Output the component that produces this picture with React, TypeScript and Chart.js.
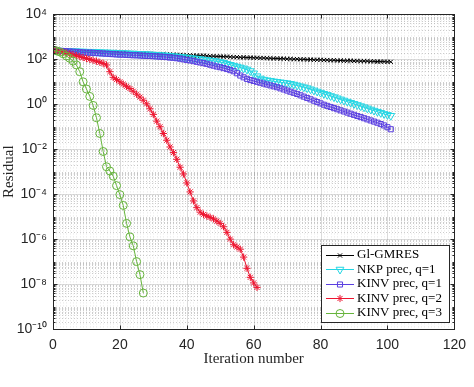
import React, { useEffect, useRef } from 'react';
import { Chart, registerables } from 'chart.js';
import { drawPoint } from 'chart.js/helpers';

Chart.register(...registerables);

// ---- data (log10 of residual, one value per iteration starting at 0) ----
const seriesNames = ['Gl-GMRES', 'NKP prec, q=1', 'KINV prec, q=1', 'KINV prec, q=2', 'KINV prec, q=3'];

const glGmresLog10 = [
  2.40, 2.40, 2.39, 2.39, 2.38, 2.37, 2.37, 2.36, 2.36, 2.35,
  2.35, 2.34, 2.34, 2.33, 2.33, 2.32, 2.32, 2.31, 2.31, 2.30,
  2.30, 2.29, 2.29, 2.28, 2.28, 2.27, 2.26, 2.26, 2.25, 2.25,
  2.24, 2.24, 2.23, 2.23, 2.22, 2.21, 2.21, 2.20, 2.20, 2.19,
  2.18, 2.18, 2.17, 2.17, 2.16, 2.16, 2.15, 2.14, 2.14, 2.13,
  2.13, 2.12, 2.12, 2.11, 2.10, 2.10, 2.09, 2.09, 2.08, 2.08,
  2.07, 2.07, 2.06, 2.06, 2.05, 2.05, 2.04, 2.04, 2.03, 2.03,
  2.02, 2.02, 2.01, 2.01, 2.00, 2.00, 1.99, 1.99, 1.98, 1.98,
  1.98, 1.97, 1.97, 1.96, 1.96, 1.95, 1.95, 1.94, 1.94, 1.94,
  1.93, 1.93, 1.92, 1.92, 1.92, 1.91, 1.91, 1.90, 1.90, 1.90,
  1.89, 1.89,
];

const nkpQ1Log10 = [
  2.40, 2.39, 2.39, 2.38, 2.38, 2.37, 2.36, 2.36, 2.35, 2.35,
  2.34, 2.34, 2.33, 2.33, 2.32, 2.31, 2.31, 2.30, 2.30, 2.29,
  2.28, 2.28, 2.27, 2.26, 2.26, 2.25, 2.24, 2.23, 2.23, 2.22,
  2.21, 2.20, 2.19, 2.18, 2.17, 2.16, 2.14, 2.13, 2.11, 2.10,
  2.08, 2.06, 2.05, 2.03, 2.01, 1.99, 1.97, 1.95, 1.93, 1.91,
  1.88, 1.85, 1.80, 1.76, 1.72, 1.68, 1.64, 1.60, 1.55, 1.48,
  1.38, 1.25, 1.15, 1.10, 1.07, 1.05, 1.02, 1.00, 0.98, 0.96,
  0.94, 0.91, 0.88, 0.84, 0.80, 0.76, 0.72, 0.67, 0.62, 0.57,
  0.52, 0.47, 0.42, 0.37, 0.32, 0.27, 0.22, 0.17, 0.12, 0.07,
  0.02, -0.03, -0.08, -0.13, -0.18, -0.23, -0.28, -0.33, -0.38, -0.43,
  -0.47, -0.51,
];

const kinvQ1Log10 = [
  2.40, 2.39, 2.38, 2.37, 2.36, 2.35, 2.34, 2.33, 2.32, 2.31,
  2.30, 2.30, 2.29, 2.28, 2.27, 2.26, 2.25, 2.24, 2.23, 2.22,
  2.21, 2.21, 2.20, 2.19, 2.18, 2.18, 2.17, 2.16, 2.15, 2.15,
  2.14, 2.13, 2.12, 2.11, 2.10, 2.08, 2.07, 2.05, 2.03, 2.00,
  1.97, 1.95, 1.92, 1.89, 1.86, 1.83, 1.80, 1.76, 1.72, 1.68,
  1.65, 1.61, 1.57, 1.52, 1.47, 1.38, 1.28, 1.20, 1.13, 1.08,
  1.04, 1.00, 0.96, 0.92, 0.88, 0.84, 0.80, 0.76, 0.71, 0.66,
  0.61, 0.56, 0.51, 0.46, 0.40, 0.34, 0.28, 0.22, 0.16, 0.10,
  0.04, -0.02, -0.07, -0.12, -0.17, -0.22, -0.27, -0.32, -0.37, -0.42,
  -0.47, -0.52, -0.57, -0.62, -0.67, -0.72, -0.77, -0.82, -0.88, -0.94,
  -1.02, -1.11,
];

const kinvQ2Log10 = [
  2.40, 2.38, 2.35, 2.32, 2.28, 2.24, 2.20, 2.16, 2.12, 2.08,
  2.04, 2.00, 1.96, 1.92, 1.87, 1.82, 1.75, 1.45, 1.20, 1.10,
  1.00, 0.90, 0.80, 0.70, 0.58, 0.45, 0.32, 0.18, 0.02, -0.20,
  -0.45, -0.75, -1.00, -1.30, -1.60, -1.90, -2.15, -2.45, -2.80, -3.10,
  -3.50, -3.90, -4.30, -4.60, -4.80, -4.90, -4.97, -5.03, -5.10, -5.20,
  -5.30, -5.45, -5.70, -6.00, -6.25, -6.35, -6.45, -6.80, -7.30, -7.70,
  -7.95, -8.15,
];

const kinvQ3Log10 = [
  2.40, 2.38, 2.33, 2.25, 2.15, 2.05, 1.92, 1.75, 1.45, 1.00,
  0.68, 0.35, -0.05, -0.60, -1.30, -2.10, -2.78, -2.97, -3.20, -3.62,
  -4.02, -4.50, -5.30, -5.90, -6.30, -7.00, -7.58, -8.40,
];

const xTickValues = [0, 20, 40, 60, 80, 100, 120];
const yTickExponents = [-10, -8, -6, -4, -2, 0, 2, 4];

const seriesColors = ['#000000', '#22d6e4', '#5a3fe0', '#ee1530', '#66b43c'];
const seriesMarkers = ['crossRot', 'triangle', 'rect', 'star', 'circle'];
const markerRadius = [3, 4.5, 3.6, 3.6, 4];
const markerRotation = [0, 180, 0, 0, 0];

const SUP: Record<string, string> = {
  '0': '⁰', '1': '¹', '2': '²', '3': '³', '4': '⁴', '5': '⁵',
  '6': '⁶', '7': '⁷', '8': '⁸', '9': '⁹', '-': '⁻',
};
const pow10Label = (e: number) => '10' + String(e).split('').map((c) => SUP[c] || c).join('');

const AXIS_COLOR = '#262626';
const SANS = '"Liberation Sans", Arial, Helvetica, sans-serif';
const SERIF = '"Liberation Serif", "Times New Roman", serif';

const crisp = (v: number) => Math.round(v) + 0.5;

const gridPlugin = {
  id: 'matlabGrid',
  beforeDatasetsDraw(chart: any) {
    const { ctx, chartArea: a, scales } = chart;
    const x = scales.x;
    const y = scales.y;
    ctx.save();
    ctx.lineWidth = 1;
    // minor vertical dotted lines
    ctx.setLineDash([1, 2]);
    ctx.strokeStyle = 'rgba(0,0,0,0.10)';
    for (let v = 1; v < 120; v += 1) {
      if (v % 20 === 0) continue;
      const px = crisp(x.getPixelForValue(v));
      ctx.beginPath();
      ctx.moveTo(px, a.top);
      ctx.lineTo(px, a.bottom);
      ctx.stroke();
    }
    // minor horizontal dotted lines
    ctx.strokeStyle = 'rgba(0,0,0,0.20)';
    for (let e = -10; e < 4; e++) {
      for (let k = 1; k <= 9; k++) {
        if (k === 1 && e % 2 === 0) continue;
        const py = crisp(y.getPixelForValue(k * Math.pow(10, e)));
        ctx.beginPath();
        ctx.moveTo(a.left, py);
        ctx.lineTo(a.right, py);
        ctx.stroke();
      }
    }
    // major solid lines
    ctx.setLineDash([]);
    ctx.strokeStyle = 'rgba(0,0,0,0.14)';
    xTickValues.forEach((v) => {
      const px = crisp(x.getPixelForValue(v));
      ctx.beginPath();
      ctx.moveTo(px, a.top);
      ctx.lineTo(px, a.bottom);
      ctx.stroke();
    });
    yTickExponents.forEach((e) => {
      const py = crisp(y.getPixelForValue(Math.pow(10, e)));
      ctx.beginPath();
      ctx.moveTo(a.left, py);
      ctx.lineTo(a.right, py);
      ctx.stroke();
    });
    ctx.restore();
  },
  afterDatasetsDraw(chart: any) {
    const { ctx, chartArea: a, scales } = chart;
    const x = scales.x;
    const y = scales.y;
    ctx.save();
    ctx.strokeStyle = AXIS_COLOR;
    ctx.lineWidth = 1;
    const L = crisp(a.left);
    const R = crisp(a.right);
    const T = crisp(a.top);
    const B = crisp(a.bottom);
    ctx.strokeRect(L, T, R - L, B - T);
    ctx.beginPath();
    xTickValues.forEach((v) => {
      const px = crisp(x.getPixelForValue(v));
      ctx.moveTo(px, B);
      ctx.lineTo(px, B - 4);
      ctx.moveTo(px, T);
      ctx.lineTo(px, T + 4);
    });
    for (let e = -10; e <= 4; e++) {
      for (let k = 1; k <= 9; k++) {
        if (e === 4 && k > 1) break;
        const py = crisp(y.getPixelForValue(k * Math.pow(10, e)));
        const len = k === 1 && e % 2 === 0 ? 4 : 2;
        ctx.moveTo(L, py);
        ctx.lineTo(L + len, py);
        ctx.moveTo(R, py);
        ctx.lineTo(R - len, py);
      }
    }
    ctx.stroke();
    ctx.restore();
  },
  afterDraw(chart: any) {
    const { ctx, chartArea: a } = chart;
    const w = 128;
    const h = 77;
    const right = Math.round(a.right) - 5;
    const bottom = Math.round(a.bottom) - 7;
    const left = right - w;
    const top = bottom - h;
    ctx.save();
    ctx.fillStyle = '#ffffff';
    ctx.fillRect(left, top, w, h);
    ctx.strokeStyle = AXIS_COLOR;
    ctx.lineWidth = 1;
    ctx.strokeRect(left + 0.5, top + 0.5, w, h);
    ctx.font = `13px ${SERIF}`;
    ctx.textBaseline = 'middle';
    ctx.textAlign = 'left';
    seriesNames.forEach((name, i) => {
      const cy = top + 9.5 + i * 14.5;
      const x0 = left + 5;
      const x1 = left + 33;
      ctx.strokeStyle = seriesColors[i];
      ctx.lineWidth = 1;
      ctx.beginPath();
      ctx.moveTo(x0, Math.round(cy) + 0.5);
      ctx.lineTo(x1, Math.round(cy) + 0.5);
      ctx.stroke();
      ctx.fillStyle = 'rgba(0,0,0,0)';
      drawPoint(ctx, {
        pointStyle: seriesMarkers[i],
        radius: markerRadius[i],
        rotation: markerRotation[i],
        borderWidth: 1,
      } as any, (x0 + x1) / 2, Math.round(cy) + 0.5);
      ctx.fillStyle = '#000000';
      ctx.fillText(name, left + 36, cy + 0.5);
    });
    ctx.restore();
  },
};

const seriesLog10 = [glGmresLog10, nkpQ1Log10, kinvQ1Log10, kinvQ2Log10, kinvQ3Log10];

export default function App() {
  const canvasRef = useRef<HTMLCanvasElement | null>(null);

  useEffect(() => {
    const canvas = canvasRef.current;
    if (!canvas) return;
    const datasets = seriesLog10.map((vals, i) => ({
      label: seriesNames[i],
      data: vals.map((v, it) => ({ x: it, y: Math.pow(10, v) })),
      borderColor: seriesColors[i],
      backgroundColor: 'rgba(0,0,0,0)',
      borderWidth: 1,
      pointStyle: seriesMarkers[i],
      pointRadius: markerRadius[i],
      pointRotation: markerRotation[i],
      pointBorderWidth: 1,
      pointBorderColor: seriesColors[i],
      pointBackgroundColor: 'rgba(0,0,0,0)',
      tension: 0,
      fill: false,
      order: seriesNames.length - i,
    }));

    const chart = new Chart(canvas, {
      type: 'line',
      data: { datasets },
      options: {
        animation: false,
        responsive: false,
        devicePixelRatio: 1,
        layout: { padding: { left: 0, top: 10, right: 11, bottom: 0 } },
        plugins: { legend: { display: false }, tooltip: { enabled: false } },
        scales: {
          x: {
            type: 'linear',
            min: 0,
            max: 120,
            grid: { display: false, drawTicks: false },
            border: { display: false },
            afterBuildTicks: (s: any) => {
              s.ticks = xTickValues.map((v) => ({ value: v }));
            },
            afterFit: (s: any) => {
              s.height = 58;
            },
            ticks: {
              autoSkip: false,
              maxRotation: 0,
              padding: 8,
              color: AXIS_COLOR,
              font: { family: SANS, size: 14 },
            },
            title: {
              display: true,
              text: 'Iteration number',
              color: AXIS_COLOR,
              font: { family: SERIF, size: 15 },
              padding: { top: 0, bottom: 19 },
            },
          },
          y: {
            type: 'logarithmic',
            min: 1e-10,
            max: 1e4,
            grid: { display: false, drawTicks: false },
            border: { display: false },
            afterBuildTicks: (s: any) => {
              s.ticks = yTickExponents.map((e) => ({ value: Math.pow(10, e) }));
            },
            afterFit: (s: any) => {
              s.width = 53;
            },
            ticks: {
              autoSkip: false,
              padding: 6,
              color: AXIS_COLOR,
              font: { family: SANS, size: 14 },
              callback: (value: any) => pow10Label(Math.round(Math.log10(Number(value)))),
            },
            title: {
              display: true,
              text: 'Residual',
              color: AXIS_COLOR,
              font: { family: SERIF, size: 15 },
              padding: { top: 0, bottom: 0 },
            },
          },
        },
      },
      plugins: [gridPlugin],
    } as any);

    return () => {
      chart.destroy();
    };
  }, []);

  return (
    <div style={{ position: 'absolute', left: 0, top: 0, width: 474, height: 387, background: '#ffffff' }}>
      <canvas ref={canvasRef} width={474} height={387} style={{ width: 474, height: 387, display: 'block' }} />
    </div>
  );
}
